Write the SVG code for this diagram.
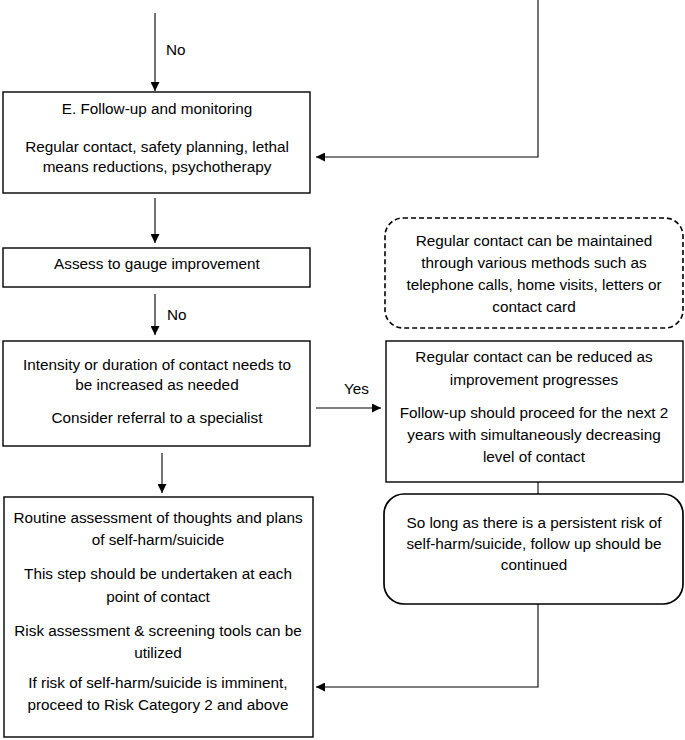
<svg xmlns="http://www.w3.org/2000/svg" width="685" height="740" viewBox="0 0 685 740">
<defs>
<style>
text{font-family:"Liberation Sans",Arial,sans-serif;font-size:15.3px;fill:#000;text-anchor:middle}
.lbl{text-anchor:start}
.box{fill:#fff;stroke:#000;stroke-width:1.4}
.dash{fill:#fff;stroke:#000;stroke-width:1.6;stroke-dasharray:5 3}
.ln{fill:none;stroke:#000;stroke-width:1.1}
</style>
<marker id="ah" viewBox="0 0 10 10" refX="10" refY="5" markerWidth="9" markerHeight="9" markerUnits="userSpaceOnUse" orient="auto">
<path d="M0,0 L10,5 L0,10 z" fill="#000"/>
</marker>
</defs>
<rect width="685" height="740" fill="#fff"/>
<g id="connectors">
<line class="ln" x1="155" y1="13" x2="155" y2="91" marker-end="url(#ah)"/>
<text class="lbl" x="166" y="55">No</text>
<polyline class="ln" points="538,0 538,157 316,157" marker-end="url(#ah)"/>
<line class="ln" x1="155" y1="198" x2="155" y2="243" marker-end="url(#ah)"/>
<line class="ln" x1="155" y1="294" x2="155" y2="335" marker-end="url(#ah)"/>
<text class="lbl" x="167" y="320">No</text>
<line class="ln" x1="316" y1="408" x2="381" y2="408" marker-end="url(#ah)"/>
<text class="lbl" x="344" y="394">Yes</text>
<line class="ln" x1="162" y1="453" x2="162" y2="493" marker-end="url(#ah)"/>
<line class="ln" x1="538" y1="482" x2="538" y2="494"/>
<polyline class="ln" points="538,604 538,687 316,687" marker-end="url(#ah)"/>
</g>
<g id="nodeE">
<rect class="box" x="3" y="92" width="307" height="101"/>
<text x="157" y="114">E. Follow-up and monitoring</text>
<text x="157" y="152">Regular contact, safety planning, lethal</text>
<text x="157" y="172">means reductions, psychotherapy</text>
</g>
<g id="nodeAssess">
<rect class="box" x="3" y="248" width="307" height="39"/>
<text x="157" y="269">Assess to gauge improvement</text>
</g>
<g id="nodeIntensity">
<rect class="box" x="3" y="341" width="307" height="105"/>
<text x="157" y="370">Intensity or duration of contact needs to</text>
<text x="157" y="390">be increased as needed</text>
<text x="157" y="423">Consider referral to a specialist</text>
</g>
<g id="nodeMethods">
<rect class="dash" x="385" y="218" width="298" height="110" rx="18" ry="18"/>
<text x="534" y="246">Regular contact can be maintained</text>
<text x="534" y="268">through various methods such as</text>
<text x="534" y="290">telephone calls, home visits, letters or</text>
<text x="534" y="312">contact card</text>
</g>
<g id="nodeReduced">
<rect class="box" x="386" y="341" width="297" height="141"/>
<text x="534" y="362">Regular contact can be reduced as</text>
<text x="534" y="385">improvement progresses</text>
<text x="534" y="418">Follow-up should proceed for the next 2</text>
<text x="534" y="440">years with simultaneously decreasing</text>
<text x="534" y="462">level of contact</text>
</g>
<g id="nodePersistent">
<rect class="box" x="384" y="494" width="299" height="110" rx="20" ry="20" style="stroke-width:1.7"/>
<text x="534" y="528">So long as there is a persistent risk of</text>
<text x="534" y="549">self-harm/suicide, follow up should be</text>
<text x="534" y="570">continued</text>
</g>
<g id="nodeRoutine">
<rect class="box" x="4" y="497" width="309" height="240"/>
<text x="158" y="523">Routine assessment of thoughts and plans</text>
<text x="158" y="545">of self-harm/suicide</text>
<text x="158" y="579">This step should be undertaken at each</text>
<text x="158" y="602">point of contact</text>
<text x="158" y="636">Risk assessment &amp; screening tools can be</text>
<text x="158" y="658">utilized</text>
<text x="158" y="688">If risk of self-harm/suicide is imminent,</text>
<text x="158" y="710">proceed to Risk Category 2 and above</text>
</g>
</svg>
